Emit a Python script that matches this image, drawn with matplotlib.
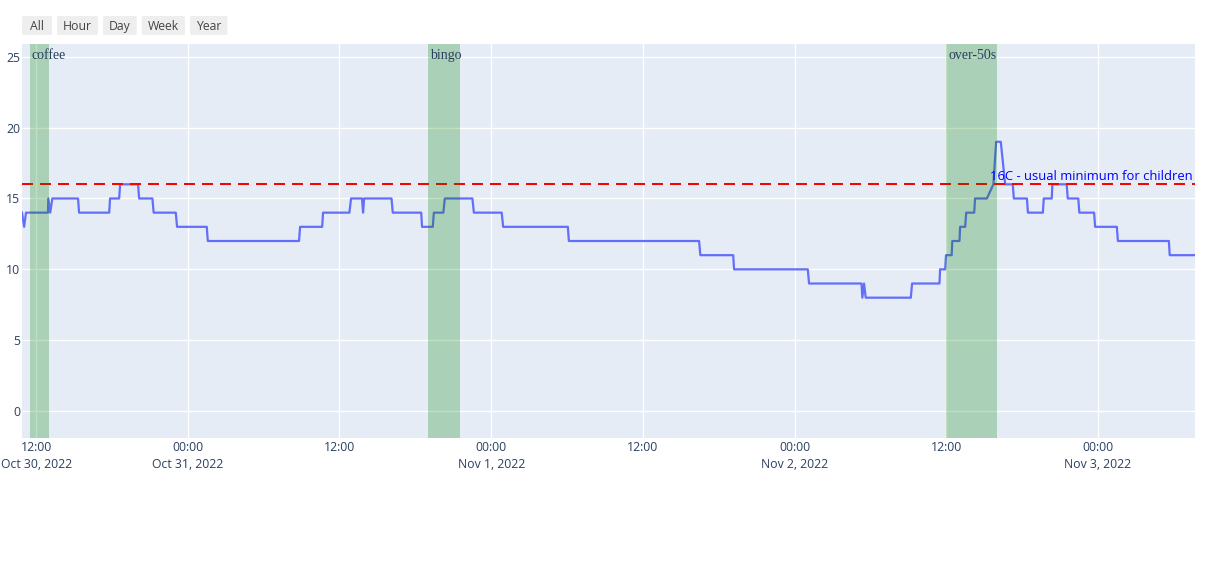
import matplotlib.pyplot as plt
import matplotlib.dates as mdates
from matplotlib.patches import FancyBboxPatch
import pandas as pd

plt.rcParams['font.family'] = ['Open Sans', 'DejaVu Sans']

# temperature readings (C)
times = [
    "2022-10-30 10:53", "2022-10-30 11:03", "2022-10-30 11:12", "2022-10-30 12:56",
    "2022-10-30 12:58", "2022-10-30 13:07", "2022-10-30 13:17", "2022-10-30 15:19",
    "2022-10-30 15:24", "2022-10-30 17:47", "2022-10-30 17:51", "2022-10-30 18:34",
    "2022-10-30 18:39", "2022-10-30 20:04", "2022-10-30 20:09", "2022-10-30 21:12",
    "2022-10-30 21:18", "2022-10-30 23:03", "2022-10-30 23:09", "2022-10-31 01:30",
    "2022-10-31 01:35", "2022-10-31 08:48", "2022-10-31 08:53", "2022-10-31 10:38",
    "2022-10-31 10:42", "2022-10-31 12:47", "2022-10-31 12:55", "2022-10-31 13:47",
    "2022-10-31 13:52", "2022-10-31 13:57", "2022-10-31 16:07", "2022-10-31 16:13",
    "2022-10-31 18:28", "2022-10-31 18:32", "2022-10-31 19:23", "2022-10-31 19:28",
    "2022-10-31 20:13", "2022-10-31 20:20", "2022-10-31 22:31", "2022-10-31 22:38",
    "2022-11-01 00:50", "2022-11-01 00:57", "2022-11-01 06:04", "2022-11-01 06:09",
    "2022-11-01 16:27", "2022-11-01 16:33", "2022-11-01 19:09", "2022-11-01 19:13",
    "2022-11-02 01:03", "2022-11-02 01:09", "2022-11-02 05:18", "2022-11-02 05:22",
    "2022-11-02 05:30", "2022-11-02 05:38", "2022-11-02 09:12", "2022-11-02 09:18",
    "2022-11-02 11:28", "2022-11-02 11:31", "2022-11-02 11:55", "2022-11-02 11:59",
    "2022-11-02 12:26", "2022-11-02 12:29", "2022-11-02 13:03", "2022-11-02 13:06",
    "2022-11-02 13:30", "2022-11-02 13:35", "2022-11-02 14:13", "2022-11-02 14:17",
    "2022-11-02 15:13", "2022-11-02 15:44", "2022-11-02 15:57", "2022-11-02 16:19",
    "2022-11-02 16:40", "2022-11-02 17:16", "2022-11-02 17:21", "2022-11-02 18:23",
    "2022-11-02 18:28", "2022-11-02 19:39", "2022-11-02 19:43", "2022-11-02 20:21",
    "2022-11-02 20:24", "2022-11-02 21:32", "2022-11-02 21:37", "2022-11-02 22:27",
    "2022-11-02 22:32", "2022-11-02 23:42", "2022-11-02 23:47", "2022-11-03 01:30",
    "2022-11-03 01:35", "2022-11-03 05:37", "2022-11-03 05:41", "2022-11-03 07:41",
]
temps = [
    14, 13, 14, 14, 15, 14, 15, 15, 14, 14, 15, 15, 16, 16, 15, 15,
    14, 14, 13, 13, 12, 12, 13, 13, 14, 14, 15, 15, 14, 15, 15, 14,
    14, 13, 13, 14, 14, 15, 15, 14, 14, 13, 13, 12, 12, 11, 11, 10,
    10, 9, 9, 8, 9, 8, 8, 9, 9, 10, 10, 11, 11, 12, 12, 13,
    13, 14, 14, 15, 15, 16, 19, 19, 16, 16, 15, 15, 14, 14, 15, 15,
    16, 16, 15, 15, 14, 14, 13, 13, 12, 12, 11, 11,
]

events = ["coffee", "bingo", "over-50s"]
event_start = ["2022-10-30 11:30", "2022-10-31 19:00", "2022-11-02 12:00"]
event_end = ["2022-10-30 13:00", "2022-10-31 21:30", "2022-11-02 16:00"]

threshold = 16
threshold_text = "16C - usual minimum for children"
buttons = ["All", "Hour", "Day", "Week", "Year"]

W, H = 1205, 576
fig = plt.figure(figsize=(W / 100, H / 100), dpi=100)
ax = fig.add_axes([22 / W, 1 - 438 / H, (1195 - 22) / W, (438 - 44) / H])
ax.set_facecolor('#E5ECF6')

t = pd.to_datetime(times)
ax.plot(t, temps, color='#636EFA', lw=1.6, zorder=2)
ax.axhline(threshold, color='red', lw=1.44, ls=(0, (5.5, 3.5)), zorder=3)

for name, s, e in zip(events, event_start, event_end):
    s = pd.Timestamp(s)
    ax.axvspan(s, pd.Timestamp(e), color='green', alpha=0.25, lw=0, zorder=4)
    ax.annotate(name, xy=(s, 1), xycoords=('data', 'axes fraction'),
                xytext=(1.5, -3.5), textcoords='offset points', ha='left', va='top',
                family='Liberation Serif', fontsize=10, color='#2a3f5f', zorder=5)

ax.annotate(threshold_text, xy=(1, threshold), xycoords=('axes fraction', 'data'),
            xytext=(-1.5, 1), textcoords='offset points', ha='right', va='bottom',
            color='blue', fontsize=9.4, zorder=5)

ax.set_xlim(t[0], t[-1])
ax.set_ylim(-1.9, 25.9)
ax.set_yticks([0, 5, 10, 15, 20, 25])

ticks = pd.date_range("2022-10-30 12:00", "2022-11-03 00:00", freq="12h")
labels = []
for i, d in enumerate(ticks):
    lab = d.strftime("%H:%M")
    if i == 0 or d.hour == 0:
        lab += "\n" + f"{d:%b} {d.day}, {d.year}"
    labels.append(lab)
ax.set_xticks(mdates.date2num(ticks))
ax.set_xticklabels(labels, linespacing=1.4)

ax.grid(color='white', lw=1)
ax.set_axisbelow(True)
for sp in ax.spines.values():
    sp.set_visible(False)
ax.tick_params(length=0, labelsize=8.8, labelcolor='#2a3f5f')
ax.tick_params(axis='x', pad=2.5)
ax.tick_params(axis='y', pad=1.5)

# range selector buttons
renderer = fig.canvas.get_renderer()
x = 22
for b in buttons:
    txt = fig.text(0, 1 - 30 / H, b, ha='center', va='baseline',
                   fontsize=8.8, color='#444444')
    w = max(txt.get_window_extent(renderer).width + 12, 30)
    txt.set_x((x + w / 2) / W)
    box = FancyBboxPatch((x / W, 1 - 35 / H), w / W, 19 / H,
                         boxstyle='round,pad=0,rounding_size=0.002',
                         transform=fig.transFigure, fc='#EEEEEE', ec='none', zorder=0)
    fig.add_artist(box)
    x += w + 5

fig.savefig('out.png', dpi=100)
